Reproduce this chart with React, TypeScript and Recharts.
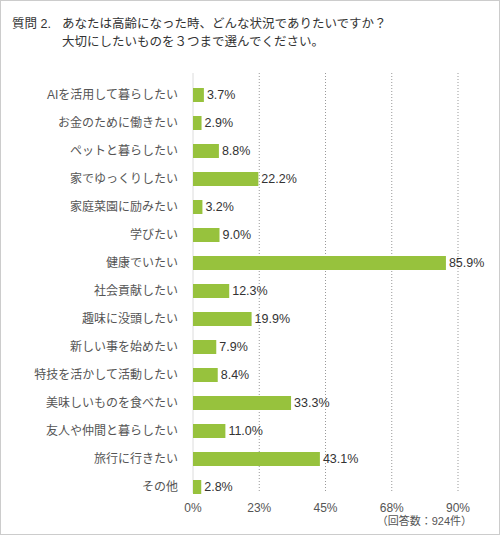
import React from "react";
import { BarChart, Bar, XAxis, YAxis, CartesianGrid, LabelList } from "recharts";

const categories = [
  "AIを活用して暮らしたい",
  "お金のために働きたい",
  "ペットと暮らしたい",
  "家でゆっくりしたい",
  "家庭菜園に励みたい",
  "学びたい",
  "健康でいたい",
  "社会貢献したい",
  "趣味に没頭したい",
  "新しい事を始めたい",
  "特技を活かして活動したい",
  "美味しいものを食べたい",
  "友人や仲間と暮らしたい",
  "旅行に行きたい",
  "その他",
];

const percents = [3.7, 2.9, 8.8, 22.2, 3.2, 9.0, 85.9, 12.3, 19.9, 7.9, 8.4, 33.3, 11.0, 43.1, 2.8];

const xTicks = [0, 22.5, 45, 67.5, 90];

const titleLines = ["あなたは高齢になった時、どんな状況でありたいですか？", "大切にしたいものを３つまで選んでください。"];
const note = "（回答数：924件）";

const FONT = "'Liberation Sans', 'Noto Sans CJK JP', sans-serif";

const data = categories.map((name, i) => ({ name, value: percents[i] }));

// grid lines sit a little above the plot band in the original
const GridLine = (props: any) => {
  const { x1, x2, y1, y2, index } = props;
  const first = index === 0;
  return (
    <line
      key={`g-${index}`}
      x1={x1}
      x2={x2}
      y1={y1 - 8}
      y2={y2 - 8}
      stroke={first ? "#dcdcdc" : "#999"}
      strokeWidth={1}
      strokeDasharray={first ? undefined : "1 2"}
    />
  );
};

const App: React.FC = () => {
  return (
    <div
      style={{
        position: "absolute",
        left: 0,
        top: 0,
        width: 500,
        height: 535,
        background: "#fff",
        fontFamily: FONT,
        color: "#333",
      }}
    >
      <BarChart
        width={500}
        height={535}
        data={data}
        layout="vertical"
        margin={{ top: 81, right: 42, bottom: 14, left: 0 }}
        style={{ position: "absolute", left: 0, top: 0, fontFamily: FONT }}
      >
        <CartesianGrid horizontal={false} vertical={GridLine} />
        <XAxis
          type="number"
          domain={[0, 90]}
          ticks={xTicks}
          axisLine={false}
          tickLine={false}
          tickSize={0}
          tickMargin={2}
          height={20}
          tick={{ fontSize: 12, fill: "#555" }}
          tickFormatter={(v: number) => `${Math.round(v)}%`}
        />
        <YAxis
          type="category"
          dataKey="name"
          width={193}
          axisLine={false}
          tickLine={false}
          tickSize={0}
          tickMargin={15}
          interval={0}
          tick={{ fontSize: 12, fill: "#555" }}
        />
        <Bar dataKey="value" fill="#97c23d" barSize={14} isAnimationActive={false}>
          <LabelList
            dataKey="value"
            position="right"
            offset={3}
            style={{ fontSize: 12.5, fill: "#333" }}
            formatter={(v: any) => `${Number(v).toFixed(1)}%`}
          />
        </Bar>
      </BarChart>
      <div style={{ position: "absolute", left: 12, top: 15, fontSize: 12.5, lineHeight: "18px" }}>質問 2.</div>
      <div style={{ position: "absolute", left: 62, top: 15, fontSize: 12.5, lineHeight: "18px", whiteSpace: "nowrap" }}>
        {titleLines[0]}
        <br />
        {titleLines[1]}
      </div>
      <div
        style={{
          position: "absolute",
          right: 28,
          top: 514,
          fontSize: 11,
          lineHeight: "15px",
          color: "#555",
          whiteSpace: "nowrap",
        }}
      >
        {note}
      </div>
      <div
        style={{
          position: "absolute",
          left: 0,
          top: 0,
          width: 500,
          height: 535,
          boxSizing: "border-box",
          border: "1px solid #ccc",
          pointerEvents: "none",
        }}
      />
    </div>
  );
};

export default App;
